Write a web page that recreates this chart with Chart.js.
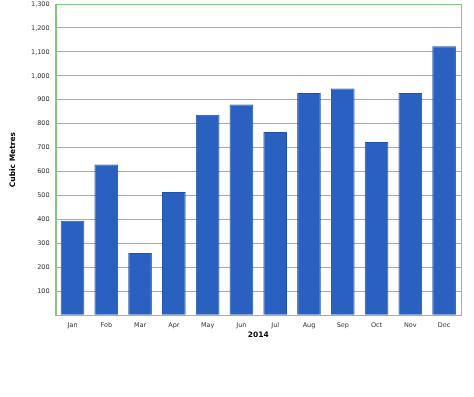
<!DOCTYPE html>
<html>
<head>
<meta charset="utf-8">
<script src="https://cdn.jsdelivr.net/npm/chart.js@4"></script>
<style>
html,body{margin:0;padding:0;background:#fff;}
#c{display:block;}
</style>
</head>
<body>
<canvas id="c" width="474" height="397"></canvas>
<script>
const categories = ['Jan','Feb','Mar','Apr','May','Jun','Jul','Aug','Sep','Oct','Nov','Dec'];
const volumes = [395, 630, 260, 515, 837, 880, 765, 928, 947, 724, 928, 1124];
const xTitle = '2014';
const yTitle = 'Cubic Metres';

const GRID = '#84c680';

const frame = {
  id: 'frame',
  afterDraw(chart) {
    const a = chart.chartArea, ctx = chart.ctx;
    ctx.save();
    ctx.strokeStyle = GRID;
    ctx.lineWidth = 1;
    ctx.strokeRect(Math.round(a.left)+0.5, Math.round(a.top)+0.5, Math.round(a.right-a.left), Math.round(a.bottom-a.top));
    ctx.restore();
  }
};

new Chart(document.getElementById('c'), {
  type: 'bar',
  data: {
    labels: categories,
    datasets: [{
      data: volumes,
      backgroundColor: '#2a61c0',
      borderColor: '#1f52a6',
      borderWidth: 1,
      categoryPercentage: 0.7,
      barPercentage: 1.0
    }]
  },
  options: {
    responsive: false,
    animation: false,
    devicePixelRatio: 1,
    layout: { padding: { left: 9, right: 13, top: 0, bottom: 53 } },
    plugins: { legend: { display: false }, tooltip: { enabled: false } },
    scales: {
      x: {
        grid: { display: false, drawTicks: false },
        border: { display: true, color: GRID },
        ticks: { font: { family: 'DejaVu Sans', size: 6.5 }, color: '#333', padding: 6 },
        title: { display: true, text: xTitle, font: { family: 'DejaVu Sans', size: 7.5, weight: 'bold' }, color: '#000', padding: { top: -4, bottom: 4 } }
      },
      y: {
        min: 0, max: 1300,
        afterFit: s => { s.paddingTop = 4; },
        grid: { color: GRID, lineWidth: 1, drawTicks: false },
        border: { display: true, color: GRID },
        ticks: {
          stepSize: 100,
          font: { family: 'DejaVu Sans', size: 6.5 }, color: '#333', padding: 6,
          callback: v => v === 0 ? '' : v.toLocaleString('en-US')
        },
        title: { display: true, text: yTitle, font: { family: 'DejaVu Sans', size: 7.5, weight: 'bold' }, color: '#000', padding: { top: 0, bottom: 7 } }
      }
    }
  },
  plugins: [frame]
});
</script>
</body>
</html>
